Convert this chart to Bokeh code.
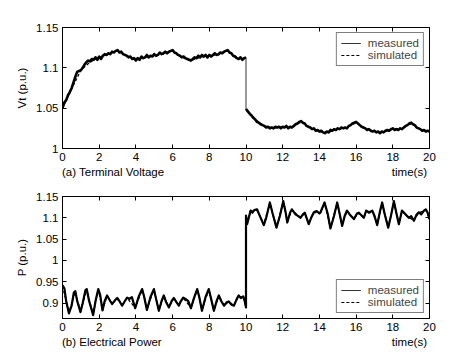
from bokeh.plotting import figure
from bokeh.layouts import column
from bokeh.models import (Range1d, FixedTicker, LinearAxis, Legend, LegendItem, Div)
from bokeh.embed import file_html
from bokeh.resources import INLINE

# ---------------- data ----------------
# (a) Terminal voltage, measured, 0.1 s steps
vt_t_pre = [round(i * 0.1, 1) for i in range(101)]          # 0 .. 10 s
vt_meas_pre = [
    1.050, 1.057, 1.060, 1.066, 1.070, 1.075, 1.082, 1.089, 1.095, 1.096,
    1.097, 1.100, 1.104, 1.107, 1.109, 1.108, 1.111, 1.110, 1.113, 1.110,
    1.114, 1.111, 1.115, 1.117, 1.116, 1.118, 1.117, 1.120, 1.119, 1.121,
    1.122, 1.119, 1.120, 1.117, 1.116, 1.115, 1.113, 1.114, 1.111, 1.112,
    1.109, 1.112, 1.110, 1.114, 1.112, 1.113, 1.116, 1.113, 1.115, 1.114,
    1.117, 1.115, 1.116, 1.119, 1.117, 1.118, 1.120, 1.118, 1.120, 1.121,
    1.122, 1.119, 1.118, 1.116, 1.115, 1.113, 1.114, 1.112, 1.111, 1.110,
    1.109, 1.111, 1.113, 1.112, 1.115, 1.113, 1.116, 1.114, 1.116, 1.113,
    1.116, 1.114, 1.116, 1.118, 1.116, 1.117, 1.119, 1.118, 1.120, 1.121,
    1.122, 1.119, 1.118, 1.115, 1.114, 1.112, 1.111, 1.113, 1.110, 1.112,
    1.113]
vt_t_post = [round(10 + i * 0.1, 1) for i in range(101)]    # 10 .. 20 s
vt_meas_post = [
    1.049, 1.046, 1.043, 1.041, 1.038, 1.036, 1.033, 1.032, 1.030, 1.029,
    1.028, 1.026, 1.027, 1.025, 1.026, 1.025, 1.027, 1.026, 1.027, 1.025,
    1.027, 1.026, 1.028, 1.025, 1.027, 1.026, 1.028, 1.030, 1.031, 1.033,
    1.034, 1.032, 1.031, 1.028, 1.027, 1.026, 1.024, 1.025, 1.022, 1.023,
    1.021, 1.022, 1.020, 1.019, 1.021, 1.020, 1.023, 1.022, 1.024, 1.023,
    1.025, 1.024, 1.026, 1.025, 1.026, 1.025, 1.028, 1.029, 1.031, 1.032,
    1.033, 1.031, 1.029, 1.027, 1.026, 1.025, 1.023, 1.024, 1.022, 1.021,
    1.022, 1.020, 1.021, 1.019, 1.021, 1.020, 1.022, 1.023, 1.022, 1.024,
    1.025, 1.023, 1.024, 1.023, 1.025, 1.024, 1.026, 1.028, 1.029, 1.031,
    1.032, 1.030, 1.029, 1.026, 1.025, 1.024, 1.022, 1.023, 1.021, 1.022,
    1.021]
# (a) Terminal voltage, simulated, 0.5 s steps
vt_sim_t_pre = [i * 0.5 for i in range(21)]
vt_sim_pre = [1.050, 1.074, 1.097, 1.107, 1.113, 1.117, 1.121, 1.115, 1.110, 1.113,
              1.115, 1.117, 1.121, 1.113, 1.109, 1.113, 1.115, 1.116, 1.121, 1.113,
              1.112]
vt_sim_t_post = [10 + i * 0.5 for i in range(21)]
vt_sim_post = [1.049, 1.036, 1.028, 1.025, 1.027, 1.026, 1.033, 1.026, 1.021, 1.020,
               1.024, 1.026, 1.032, 1.025, 1.021, 1.020, 1.024, 1.025, 1.031, 1.024,
               1.021]

# (b) Electrical power, measured
p_t = [0.0, 0.1, 0.2, 0.35, 0.5, 0.62, 0.7, 0.8, 0.98, 1.1, 1.25, 1.32, 1.45, 1.67, 1.8,
       1.95, 2.05, 2.18, 2.3, 2.43, 2.6, 2.7, 2.85, 2.98, 3.1, 3.25, 3.4, 3.52, 3.65, 3.78,
       3.96, 4.15, 4.34, 4.45, 4.6, 4.8, 4.98, 5.1, 5.25, 5.4, 5.52, 5.65, 5.8, 5.95, 6.07,
       6.2, 6.34, 6.45, 6.58, 6.7, 6.85, 7.0, 7.15, 7.34, 7.45, 7.6, 7.8, 7.97, 8.1, 8.25,
       8.4, 8.52, 8.65, 8.8, 8.95, 9.06, 9.2, 9.34, 9.5, 9.6, 9.72, 9.85, 9.93, 10.0,
       10.0, 10.06, 10.15, 10.25, 10.35, 10.45, 10.6, 10.7, 10.8, 10.97, 11.1, 11.3, 11.45,
       11.66, 11.85, 12.03, 12.15, 12.25, 12.4, 12.5, 12.7, 12.85, 12.97, 13.1, 13.2,
       13.42, 13.55, 13.7, 13.85, 14.0, 14.06, 14.28, 14.45, 14.6, 14.8, 14.97, 15.1,
       15.24, 15.38, 15.5, 15.65, 15.88, 16.05, 16.15, 16.42, 16.55, 16.7, 16.88, 17.0,
       17.15, 17.3, 17.42, 17.55, 17.75, 17.9, 18.06, 18.2, 18.33, 18.5, 18.65, 18.87,
       19.0, 19.15, 19.3, 19.42, 19.55, 19.7, 19.8, 19.9, 20.0]
p_meas = [0.942, 0.935, 0.905, 0.876, 0.895, 0.925, 0.928, 0.905, 0.879, 0.900, 0.930,
          0.933, 0.905, 0.872, 0.905, 0.933, 0.920, 0.883, 0.905, 0.918, 0.905, 0.898,
          0.906, 0.912, 0.905, 0.894, 0.905, 0.913, 0.910, 0.914, 0.888, 0.915, 0.933,
          0.915, 0.884, 0.915, 0.933, 0.910, 0.882, 0.905, 0.918, 0.902, 0.890, 0.905,
          0.912, 0.903, 0.894, 0.905, 0.913, 0.910, 0.905, 0.888, 0.910, 0.933, 0.915,
          0.882, 0.915, 0.933, 0.910, 0.882, 0.905, 0.918, 0.905, 0.894, 0.902, 0.904,
          0.897, 0.894, 0.910, 0.918, 0.912, 0.916, 0.905, 0.890,
          1.105, 1.085, 1.100, 1.117, 1.112, 1.118, 1.120, 1.110, 1.100, 1.083, 1.100,
          1.136, 1.110, 1.077, 1.105, 1.139, 1.115, 1.089, 1.112, 1.120, 1.108, 1.104,
          1.100, 1.108, 1.112, 1.085, 1.100, 1.113, 1.116, 1.110, 1.113, 1.136, 1.110,
          1.075, 1.105, 1.136, 1.110, 1.081, 1.105, 1.117, 1.108, 1.097, 1.110, 1.112,
          1.100, 1.117, 1.112, 1.117, 1.105, 1.083, 1.115, 1.136, 1.110, 1.077, 1.105,
          1.139, 1.110, 1.085, 1.117, 1.110, 1.100, 1.104, 1.093, 1.108, 1.113, 1.108,
          1.117, 1.120, 1.112, 1.097]
# (b) Electrical power, simulated
p_sim_t = [0.0, 0.35, 0.7, 0.98, 1.32, 1.67, 1.95, 2.18, 2.43, 2.7, 2.98, 3.25, 3.52,
           3.96, 4.34, 4.6, 4.98, 5.25, 5.52, 5.8, 6.07, 6.34, 6.58, 7.0, 7.34, 7.6,
           7.97, 8.25, 8.52, 8.8, 9.06, 9.34, 9.6, 9.85, 10.0,
           10.0, 10.06, 10.25, 10.6, 10.97, 11.3, 11.66, 12.03, 12.25, 12.5, 12.97,
           13.2, 13.42, 13.7, 14.06, 14.28, 14.6, 14.97, 15.24, 15.5, 15.88, 16.15,
           16.42, 16.55, 16.88, 17.15, 17.42, 17.75, 18.06, 18.33, 18.5, 18.87, 19.15,
           19.42, 19.8, 20.0]
p_sim = [0.940, 0.878, 0.926, 0.881, 0.931, 0.874, 0.931, 0.885, 0.916, 0.899, 0.911,
         0.895, 0.912, 0.889, 0.931, 0.886, 0.931, 0.884, 0.916, 0.891, 0.911, 0.895,
         0.912, 0.889, 0.931, 0.884, 0.931, 0.884, 0.916, 0.895, 0.903, 0.895, 0.916,
         0.914, 0.891,
         1.103, 1.087, 1.115, 1.118, 1.085, 1.134, 1.079, 1.137, 1.091, 1.118, 1.101,
         1.110, 1.087, 1.112, 1.112, 1.134, 1.077, 1.134, 1.083, 1.115, 1.098, 1.111,
         1.101, 1.115, 1.115, 1.085, 1.134, 1.079, 1.137, 1.087, 1.115, 1.101, 1.094,
         1.112, 1.118, 1.098]

x_ticks = [0, 2, 4, 6, 8, 10, 12, 14, 16, 18, 20]
vt_ticks = [1.0, 1.05, 1.1, 1.15]
vt_tick_labels = ["1", "1.05", "1.1", "1.15"]
p_ticks = [0.9, 0.95, 1.0, 1.05, 1.1, 1.15]
p_tick_labels = ["0.9", "0.95", "1", "1.05", "1.1", "1.15"]

FONT = "Liberation Sans"
FS = "11.5px"


def style_axis(ax, ticks, labels=None, show_labels=True):
    ax.ticker = FixedTicker(ticks=ticks)
    ax.major_tick_in = 4
    ax.major_tick_out = 0
    ax.minor_tick_line_color = None
    ax.axis_line_color = "black"
    ax.major_tick_line_color = "black"
    ax.major_label_text_font = FONT
    ax.major_label_text_color = "black"
    ax.major_label_standoff = 4
    ax.axis_label_text_font = FONT
    ax.axis_label_text_font_size = FS
    ax.axis_label_text_font_style = "normal"
    ax.axis_label_text_color = "black"
    if show_labels:
        ax.major_label_text_font_size = FS
    else:
        ax.major_label_text_alpha = 0
        ax.major_label_text_font_size = "1px"
    if labels is not None:
        ax.major_label_overrides = {t: l for t, l in zip(ticks, labels)}


def make_fig(height, top, bottom, yr, yticks, ylabels, ylabel):
    p = figure(width=474, height=height, output_backend="svg", toolbar_location=None,
               x_range=Range1d(0, 20), y_range=Range1d(*yr),
               min_border_left=62, min_border_right=45,
               min_border_top=top, min_border_bottom=bottom,
               x_axis_location=None, y_axis_location=None)
    p.grid.visible = False
    p.outline_line_color = "black"
    p.outline_line_width = 1
    p.background_fill_color = "white"
    p.border_fill_color = "white"
    xb = LinearAxis()
    style_axis(xb, x_ticks)
    p.add_layout(xb, "below")
    xt = LinearAxis()
    style_axis(xt, x_ticks, show_labels=False)
    p.add_layout(xt, "above")
    yl = LinearAxis(axis_label=ylabel)
    style_axis(yl, yticks, ylabels)
    yl.axis_label_standoff = 5
    p.add_layout(yl, "left")
    yrx = LinearAxis()
    style_axis(yrx, yticks, show_labels=False)
    p.add_layout(yrx, "right")
    return p


def add_legend(p, m, s, loc):
    lg = Legend(items=[LegendItem(label="measured", renderers=[m]),
                       LegendItem(label="simulated", renderers=[s])],
                location=loc, margin=5, padding=4, spacing=0,
                label_text_font=FONT, label_text_font_size=FS,
                label_height=12, glyph_height=12, glyph_width=20, label_standoff=7,
                border_line_color="black", border_line_width=1,
                background_fill_color="white", background_fill_alpha=1.0)
    p.add_layout(lg, "center")


# ---------- (a) ----------
p1 = make_fig(165, 27, 17, (1.0, 1.15), vt_ticks, vt_tick_labels, "Vt (p.u.)")
# thin copy underneath, used as the legend sample
m1_leg = p1.line(vt_t_pre, vt_meas_pre, line_color="#333333", line_width=1.2)
p1.line(vt_t_pre, vt_meas_pre, line_color="black", line_width=2.6, line_join="round")
p1.line(vt_t_post, vt_meas_post, line_color="black", line_width=2.6, line_join="round")
p1.line([vt_t_pre[-1], vt_t_post[0]], [vt_meas_pre[-1], vt_meas_post[0]],
        line_color="#555555", line_width=1.2)
s1 = p1.line(vt_sim_t_pre, vt_sim_pre, line_color="black", line_width=1.2, line_dash="3 2")
p1.line(vt_sim_t_post, vt_sim_post, line_color="black", line_width=1.2, line_dash="3 2")
add_legend(p1, m1_leg, s1, "top_right")

# ---------- (b) ----------
p2 = make_fig(155, 16, 17, (0.864, 1.15), p_ticks, p_tick_labels, "P (p.u.)")
m2_leg = p2.line(p_t, p_meas, line_color="#333333", line_width=1.2)
p2.line(p_t, p_meas, line_color="black", line_width=2.2, line_join="round")
s2 = p2.line(p_sim_t, p_sim, line_color="black", line_width=1.2, line_dash="3 2")
add_legend(p2, m2_leg, s2, "bottom_right")


def caption_div(caption):
    html = (
        "<div style=\"position:relative;width:474px;height:15px;"
        "font-family:'Liberation Sans',Arial,sans-serif;font-size:11.5px;"
        "color:black;line-height:15px;\">"
        "<span style=\"position:absolute;left:62px;top:0;\">" + caption + "</span>"
        "<span style=\"position:absolute;right:47px;top:0;\">time(s)</span>"
        "</div>")
    return Div(text=html, width=474, height=15, margin=(0, 0, 0, 0))


layout = column(p1, caption_div("(a) Terminal Voltage"), p2,
                caption_div("(b) Electrical Power"), spacing=0)
open("out.html", "w").write(file_html(layout, INLINE))
